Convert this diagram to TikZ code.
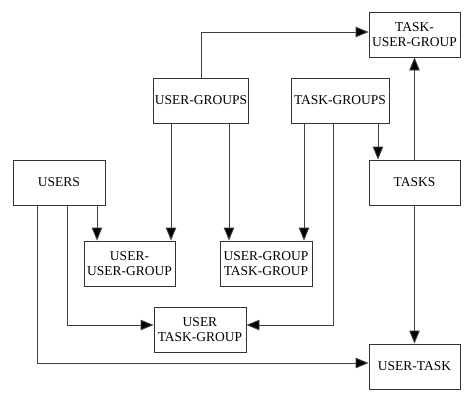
\documentclass[tikz,border=0pt]{standalone}
\usepackage{fontspec}
\setmainfont{Liberation Serif}
\usetikzlibrary{arrows.meta}

\begin{document}
\begin{tikzpicture}[x=1pt,y=-1pt]
\tikzset{
  tablebox/.style={rectangle,draw=black!80,line width=0.9pt,minimum width=91pt,minimum height=45pt,inner sep=1pt,align=center,font=\fontsize{13.5}{15}\selectfont},
  link/.style={draw=black!75,line width=0.9pt,-{Triangle[length=13pt,width=10.5pt,fill=black]}}
}
\useasboundingbox (0,0) rectangle (474,400);
\node[tablebox] (n_tug) at (414.5,34.5) {TASK-\\USER-GROUP};
\node[tablebox,minimum width=92pt] (n_ugs) at (201,100.5) {USER-GROUPS};
\node[tablebox,minimum width=98pt] (n_tgs) at (340,100.5) {TASK-GROUPS};
\node[tablebox,minimum width=92pt] (n_users) at (59,182.5) {USERS};
\node[tablebox] (n_tasks) at (414.5,182.5) {TASKS};
\node[tablebox] (n_uug) at (129.5,263.5) {USER-\\USER-GROUP};
\node[tablebox,minimum width=92pt] (n_ugtg) at (266,263.5) {USER-GROUP\\TASK-GROUP};
\node[tablebox,minimum width=92pt] (n_utg) at (200,329.5) {USER\\TASK-GROUP};
\node[tablebox] (n_ut) at (414.5,366.5) {USER-TASK};
\coordinate (c_ugs1) at ([xshift=-30pt]n_ugs.south);
\coordinate (c_ugs2) at ([xshift=28pt]n_ugs.south);
\coordinate (c_tgs1) at ([xshift=-36pt]n_tgs.south);
\coordinate (c_tgs2) at ([xshift=-7pt]n_tgs.south);
\coordinate (c_tgs3) at ([xshift=38pt]n_tgs.south);
\coordinate (c_users1) at ([xshift=38pt]n_users.south);
\coordinate (c_users2) at ([xshift=8pt]n_users.south);
\coordinate (c_users3) at ([xshift=-22pt]n_users.south);
\coordinate (c_tug) at ([yshift=2.5pt]n_tug.west);
\coordinate (c_utg) at ([yshift=4.5pt]n_utg.west);
\coordinate (c_utg2) at ([yshift=4.5pt]n_utg.east);
\coordinate (c_ut) at ([yshift=3.5pt]n_ut.west);
\draw[link] (n_ugs.north) |- (c_tug);
\draw[link] (n_tasks.north) -- (n_tug.south);
\draw[link] (c_tgs3) -- (c_tgs3 |- n_tasks.north);
\draw[link] (c_ugs1) -- (c_ugs1 |- n_uug.north);
\draw[link] (c_ugs2) -- (c_ugs2 |- n_ugtg.north);
\draw[link] (c_tgs1) -- (c_tgs1 |- n_ugtg.north);
\draw[link] (c_tgs2) |- (c_utg2);
\draw[link] (c_users1) -- (c_users1 |- n_uug.north);
\draw[link] (c_users2) |- (c_utg);
\draw[link] (c_users3) |- (c_ut);
\draw[link] (n_tasks.south) -- (n_ut.north);
\end{tikzpicture}
\end{document}
